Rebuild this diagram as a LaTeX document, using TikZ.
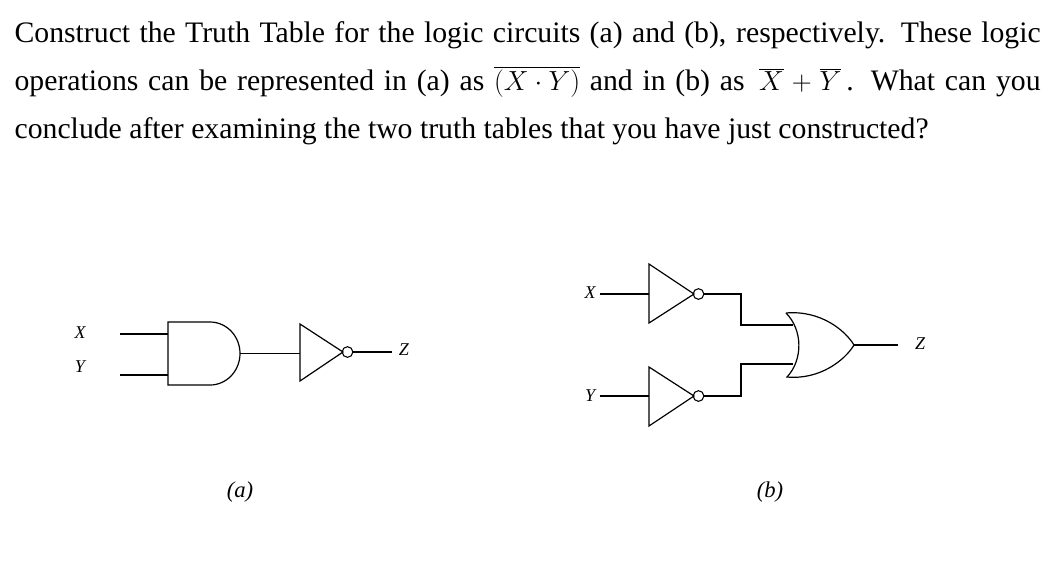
\documentclass[tikz,border=0pt]{standalone}
\usepackage{fontspec}
\setmainfont{Liberation Serif}
\begin{document}
\begin{tikzpicture}[x=0.75pt,y=-0.75pt,line width=0.9pt,
  wire/.style={draw},
  gate/.style={draw,line join=miter},
  lbl/.style={font=\fontsize{13.5}{16}\selectfont\itshape, inner sep=0pt},
  para/.style={anchor=base west, inner sep=0pt, font=\fontsize{22.3}{25}\selectfont}]
\useasboundingbox (0,0) rectangle (1060,562);
% text
\node[para] (l1) at (14,42) {\makebox[769.5pt][s]{Construct the Truth Table for the logic circuits (a) and (b), respectively. These logic}};
\node[para] (l2) at (14,90) {\makebox[769.5pt][s]{operations can be represented in (a) as $\overline{\bigl(X\cdot Y\bigr)}$ and in (b) as $\,\overline{X}+\overline{Y}$\,. What can you}};
\node[para] (l3) at (14,138) {conclude after examining the two truth tables that you have just constructed?};
% circuit (a)
\node[lbl] (ax) at (80,333) {X};
\node[lbl] (ay) at (80,367) {Y};
\coordinate (axs) at (120,334); \coordinate (axe) at (168,334);
\coordinate (ays) at (120,375); \coordinate (aye) at (168,375);
\draw[wire] (axs) -- (axe);
\draw[wire] (ays) -- (aye);
\draw[gate] (168,322) -- (210,322) arc[start angle=-90,end angle=90,x radius=30,y radius=31.5] -- (168,385) -- cycle;
\coordinate (aando) at (240,353.5);
\coordinate (anoti) at (300,353.5);
\draw[wire] (aando) -- (anoti);
\draw[gate] (300,324) -- (343,352) -- (300,381) -- cycle;
\node[draw,circle,minimum size=8pt,inner sep=0pt,line width=0.8pt] (ab) at (347.5,352) {};
\node[lbl] (az) at (404,350) {Z};
\draw[wire] (ab.east) -- (392,352);
% circuit (b)
\node[lbl] (bx) at (590,293) {X};
\node[lbl] (by) at (590,396) {Y};
\draw[wire] (bx.east) ++(4,1) -- (649,294);
\draw[wire] (by.east) ++(4,0) -- (649,396);
\draw[gate] (649,264) -- (694,294) -- (649,323) -- cycle;
\draw[gate] (649,367) -- (694,396) -- (649,426) -- cycle;
\node[draw,circle,minimum size=8pt,inner sep=0pt,line width=0.8pt] (bn1) at (698.5,294) {};
\node[draw,circle,minimum size=8pt,inner sep=0pt,line width=0.8pt] (bn2) at (698.5,396) {};
\draw[wire] (bn1.east) -- (741,294) -- (741,325) -- (793,325);
\draw[wire] (bn2.east) -- (741,396) -- (741,364) -- (793,364);
\draw[gate] (786,313) .. controls (820,310) and (845,330) .. (854,345)
  .. controls (845,360) and (820,380) .. (787,377)
  .. controls (803,360) and (803,330) .. (786,313);
\draw[wire] (854,345) -- (898,345);
\node[lbl] (bz) at (920,344) {Z};
% captions
\node[font=\fontsize{17}{20}\selectfont\itshape] (ca) at (240,492) {(a)};
\node[font=\fontsize{17}{20}\selectfont\itshape] (cb) at (770,492) {(b)};
\end{tikzpicture}
\end{document}
